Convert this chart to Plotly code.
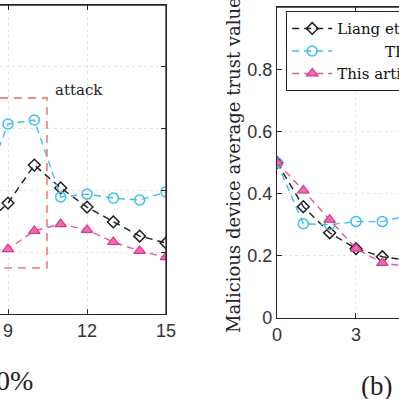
import plotly.graph_objects as go

# ---------------- data ----------------
# left panel (a): visible x range 8..15
xa = [8, 9, 10, 11, 12, 13, 14, 15]
a_liang = [0.28, 0.359, 0.482, 0.408, 0.346, 0.298, 0.252, 0.23]
a_trm = [0.39, 0.615, 0.628, 0.379, 0.388, 0.375, 0.369, 0.395]
a_this = [0.20, 0.21, 0.269, 0.291, 0.272, 0.233, 0.204, 0.184]

# right panel (b): visible x range 0..5
xb = [0, 1, 2, 3, 4, 5]
b_liang = [0.5, 0.358, 0.274, 0.223, 0.197, 0.185]
b_trm = [0.5, 0.303, 0.30, 0.31, 0.31, 0.33]
b_this = [0.5, 0.41, 0.316, 0.223, 0.177, 0.165]

names = ["Liang et al. [27]", "\u00a0" * 10 + "TRM [28]", "This article"]
y_ticks = [0, 0.2, 0.4, 0.6, 0.8, 1]
y_ticktext = ["0", "0.2", "0.4", "0.6", "0.8", "1"]

# attack box (data coords, left panel)
box_x = [3, 10.48]
box_y = [0.149, 0.699]

# ---------------- styles ----------------
C_BLK = "#1e1e1e"
C_CYAN = "#42bfe8"
C_PINK = "#e8559f"
C_AX = "#262626"
DASH = "7px,5px"

styles = [
    dict(line=dict(color=C_BLK, width=1.4, dash=DASH),
         marker=dict(symbol="diamond-open", size=9, color=C_BLK, line=dict(width=1.5, color=C_BLK))),
    dict(line=dict(color=C_CYAN, width=1.4, dash=DASH),
         marker=dict(symbol="circle-open", size=10, color=C_CYAN, line=dict(width=1.5, color=C_CYAN))),
    dict(line=dict(color=C_PINK, width=1.4, dash=DASH),
         marker=dict(symbol="triangle-up", size=10, color="#f06cb0", line=dict(width=1.2, color="#d6368e"))),
]

fig = go.Figure()
for ys, st in zip([a_liang, a_trm, a_this], styles):
    fig.add_trace(go.Scatter(x=xa, y=ys, mode="lines+markers", xaxis="x", yaxis="y",
                             showlegend=False, **st))
for ys, nm, st in zip([b_liang, b_trm, b_this], names, styles):
    fig.add_trace(go.Scatter(x=xb, y=ys, mode="lines+markers", xaxis="x2", yaxis="y2",
                             name=nm, **st))

px = 26.33  # pixels per x unit
tickfont = dict(family="Liberation Sans, Arial", size=18, color="#333")
axline = dict(showline=True, linecolor=C_AX, linewidth=1.2,
              ticks="inside", ticklen=5, tickcolor=C_AX,
              showgrid=True, gridcolor="#e6e6e6", griddash="dot", gridwidth=1,
              zeroline=False, tickfont=tickfont)

# panel geometry in paper fractions
A_X = [0, 166 / 399]
A_Y = [85 / 399, 394 / 399]
B_X = [277 / 399, 1]
B_Y = [81 / 399, 392 / 399]

fig.update_layout(
    width=399, height=399,
    margin=dict(l=0, r=0, t=0, b=0, autoexpand=False),
    paper_bgcolor="white", plot_bgcolor="white",
    xaxis=dict(domain=A_X, range=[9 - 8 / px, 15], tickmode="array",
               tickvals=[9, 12, 15], mirror="ticks", anchor="y", **axline),
    yaxis=dict(domain=A_Y, range=[0, 1], tickvals=y_ticks,
               side="right", showticklabels=False, anchor="x", **axline),
    xaxis2=dict(domain=B_X, range=[0, 122 / px], tickmode="array",
                tickvals=[0, 3], mirror="ticks", anchor="y2", **axline),
    yaxis2=dict(domain=B_Y, range=[0, 1], tickvals=y_ticks,
                ticktext=y_ticktext, mirror=False, anchor="x2", **axline),
    legend=dict(x=286 / 399, y=388 / 399, xanchor="left", yanchor="top",
                bgcolor="white", bordercolor="#222", borderwidth=1.2,
                font=dict(family="DejaVu Serif", size=15, color="#111"),
                itemwidth=40, tracegroupgap=0),
    showlegend=True,
)

# frame lines (top of both panels, right side of left panel)
frame = dict(type="line", xref="paper", yref="paper", line=dict(color=C_AX, width=1.3), layer="above")
fig.add_shape(x0=A_X[0], x1=A_X[1], y0=A_Y[1], y1=A_Y[1], **frame)
fig.add_shape(x0=A_X[1], x1=A_X[1], y0=A_Y[0], y1=A_Y[1], **frame)
fig.add_shape(x0=B_X[0], x1=B_X[1], y0=B_Y[1], y1=B_Y[1], **frame)

fig.add_shape(type="rect", xref="x", yref="y", x0=box_x[0], x1=box_x[1],
              y0=box_y[0], y1=box_y[1],
              line=dict(color="#ee8c8c", width=1.8, dash="8px,6px"))

fig.add_annotation(x=11.7, y=0.725, xref="x", yref="y", text="attack", showarrow=False,
                   font=dict(family="DejaVu Serif", size=15, color="#222"))

fig.add_annotation(x=233 / 399, y=(399 - 165) / 399, xref="paper", yref="paper",
                   text="Malicious device average trust value", textangle=-90,
                   xanchor="center", yanchor="middle",
                   showarrow=False, font=dict(family="DejaVu Serif", size=18, color="#222"))

fig.add_annotation(x=376 / 399, y=(399 - 386) / 399, xref="paper", yref="paper", text="(b)",
                   xanchor="center", yanchor="middle",
                   showarrow=False, font=dict(family="Liberation Serif", size=27, color="#222"))

fig.add_annotation(x=35 / 399, y=(399 - 380) / 399, xref="paper", yref="paper", text="30%",
                   xanchor="right", yanchor="middle", showarrow=False,
                   font=dict(family="Liberation Serif", size=28, color="#222"))

fig.write_html("out.html", config={"displayModeBar": False},
               post_script="document.body.style.margin='0';document.body.style.overflow='hidden';")
